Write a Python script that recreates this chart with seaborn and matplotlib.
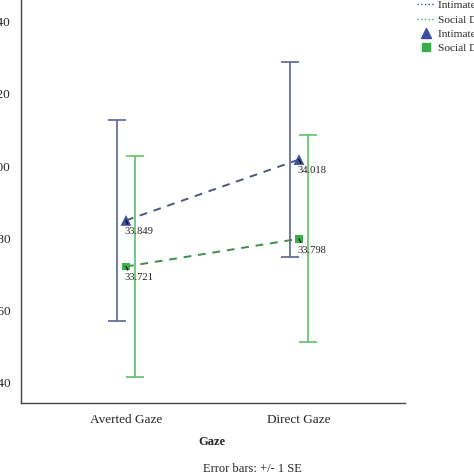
import numpy as np
import pandas as pd
import matplotlib
matplotlib.use("Agg")
import matplotlib.pyplot as plt
from matplotlib.lines import Line2D
import seaborn as sns

# ---- data ----
gaze = ["Averted Gaze", "Direct Gaze"]
groups = ["Intimate Distance", "Social Distance"]
intimate_mean = [33.849, 34.018]
social_mean = [33.721, 33.798]
intimate_se = [0.279, 0.271]
social_se = [0.307, 0.288]
yticks = [33.40, 33.60, 33.80, 34.00, 34.20, 34.40]
ytick_labels = ["33.40", "33.60", "33.80", "34.00", "34.20", "34.40"]

sns.set_style("white")
plt.rcParams["font.family"] = ["Liberation Serif", "DejaVu Serif"]

df = pd.DataFrame({
    "gaze": gaze * 2,
    "pos": list(range(len(gaze))) * 2,
    "group": [groups[0]] * 2 + [groups[1]] * 2,
    "mean": intimate_mean + social_mean,
    "se": intimate_se + social_se,
})

marker_col = {groups[0]: "#3b4ea3", groups[1]: "#3aae4a"}
err_col = {groups[0]: "#5b6596", groups[1]: "#5fbf6a"}
line_col = {groups[0]: "#4d5777", groups[1]: "#3f8a50"}
markers = {groups[0]: "^", groups[1]: "s"}
msize = {groups[0]: 60, groups[1]: 32}
offsets = {groups[0]: -0.052, groups[1]: 0.052}

fig = plt.figure(figsize=(4.74, 4.74), dpi=100)
ax = fig.add_axes([21 / 474, 71 / 474, 384 / 474, 403 / 474])

for g in groups:
    sub = df[df["group"] == g]
    # error bars (offset)
    ax.errorbar(sub["pos"] + offsets[g], sub["mean"], yerr=sub["se"], fmt="none",
                ecolor=err_col[g], elinewidth=1.2, capsize=6.5, capthick=1.2, zorder=2)
    # dashed connecting line
    sns.lineplot(data=sub, x="pos", y="mean", ax=ax, color=line_col[g],
                 linestyle=(0, (4, 3.5)), linewidth=1.4, legend=False, zorder=3,
                 errorbar=None)
    # markers
    sns.scatterplot(data=sub, x="pos", y="mean", ax=ax, color=marker_col[g],
                    marker=markers[g], s=msize[g], edgecolor="none", legend=False, zorder=4)
    for _, r in sub.iterrows():
        ax.annotate(f"{r['mean']:.3f}", xy=(r["pos"], r["mean"]),
                    xytext=(-1, -5), textcoords="offset points",
                    ha="left", va="top", fontsize=7.6, color="#222222",
                    arrowprops=dict(arrowstyle="-", color="black", lw=0.8,
                                    shrinkA=0, shrinkB=3, relpos=(0.17, 1.0)),
                    zorder=5)

ax.set_xlim(-0.607, 1.613)
ax.set_ylim(33.342, 34.461)
ax.set_xticks(range(len(gaze)))
ax.set_xticklabels(gaze, fontsize=9.5)
ax.set_yticks(yticks)
ax.set_yticklabels(ytick_labels, fontsize=9.5)
ax.tick_params(axis="y", length=6.5, width=1.0, color="#333333", pad=1)
ax.tick_params(axis="x", length=5, width=1.0, color="#333333", pad=3)
for s in ["top", "right"]:
    ax.spines[s].set_visible(False)
for s in ["left", "bottom"]:
    ax.spines[s].set_color("#444444")
    ax.spines[s].set_linewidth(1.0)

ax.set_xlabel("Gaze", fontsize=9, fontweight="bold")
ax.set_ylabel("")
ax.xaxis.set_label_coords((212 - 21) / 384, (403 - 442) / 403)
ax.xaxis.label.set_va("center")

fig.text(252 / 474, 1 - 469 / 474, "Error bars: +/- 1 SE", ha="center", va="center", fontsize=9)

handles = [
    Line2D([], [], color=marker_col[groups[0]], linestyle=":", linewidth=1.0),
    Line2D([], [], color=marker_col[groups[1]], linestyle=":", linewidth=1.0),
    Line2D([], [], color=marker_col[groups[0]], marker="^", linestyle="none", markersize=7.5),
    Line2D([], [], color=marker_col[groups[1]], marker="s", linestyle="none", markersize=5.5),
]
fig.legend(handles, [groups[0], groups[1], groups[0], groups[1]],
           loc="upper left", bbox_to_anchor=(417 / 474, 0.999), frameon=False,
           fontsize=8.2, borderpad=0, handlelength=1.5, handletextpad=0.3,
           labelspacing=0.38, borderaxespad=0)

fig.savefig("out.png", dpi=100)
